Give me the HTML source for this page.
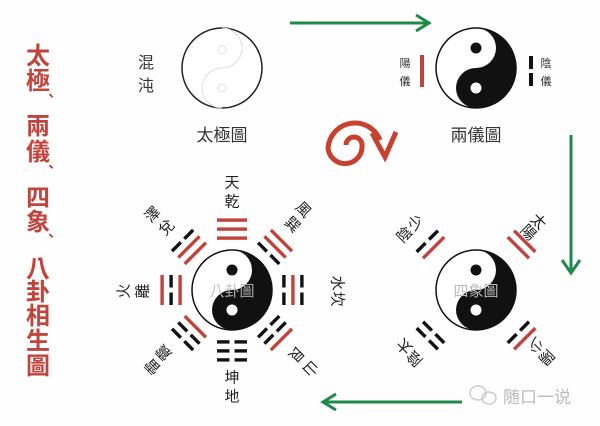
<!DOCTYPE html>
<html><head><meta charset="utf-8"><style>
html,body{margin:0;padding:0;background:#fff;}
svg{display:block;font-family:"Liberation Sans","Noto Sans CJK TC",sans-serif;}
</style></head><body>
<svg width="600" height="426" viewBox="0 0 600 426" xmlns="http://www.w3.org/2000/svg">
<rect width="600" height="426" fill="#fefefe"/>
<defs>
<g id="yy">
<circle cx="0" cy="0" r="40" fill="#fff" stroke="#111" stroke-width="1.5"/>
<path d="M0,-40 A40,40 0 0 1 0,40 A20,20 0 0 1 0,0 A20,20 0 0 0 0,-40 Z" fill="#111"/>
<circle cx="0" cy="-20" r="5.5" fill="#111"/>
<circle cx="0" cy="20" r="5.5" fill="#fff"/>
</g>
<g id="Y"><rect x="-15" y="-1.6" width="30" height="3.4" fill="#c0443c"/></g>
<g id="N"><rect x="-15" y="-1.6" width="12.5" height="3.4" fill="#111"/><rect x="2.5" y="-1.6" width="12.5" height="3.4" fill="#111"/></g>
</defs>

<!-- left title -->
<g fill="#c0443c" font-size="24" font-weight="bold" text-anchor="middle">
<text x="38" y="64">太</text><text x="38" y="89">極</text><text x="51" y="101" font-size="14">、</text>
<text x="38" y="134">兩</text><text x="38" y="160">儀</text><text x="51" y="172" font-size="14">、</text>
<text x="38" y="206">四</text><text x="38" y="230">象</text><text x="51" y="241" font-size="14">、</text>
<text x="38" y="277">八</text><text x="38" y="300">卦</text><text x="38" y="324">相</text><text x="38" y="349">生</text><text x="38" y="374">圖</text>
</g>

<!-- 太極 -->
<circle cx="222" cy="68" r="40" fill="#fff" stroke="#222" stroke-width="1.5"/>
<path d="M222,28 A20,20 0 0 1 222,68 A20,20 0 0 0 222,108" fill="none" stroke="#ddd" stroke-width="1"/>
<circle cx="222" cy="50" r="4" fill="none" stroke="#e2e2e2"/><circle cx="222" cy="88" r="4" fill="none" stroke="#e2e2e2"/>
<g font-size="16" fill="#333" text-anchor="middle"><text x="146" y="68">混</text><text x="146" y="91">沌</text>
<text x="222" y="141" font-size="17">太極圖</text></g>

<!-- top green arrow -->
<g stroke="#1e8a4a" stroke-width="3" fill="none"><line x1="290" y1="23" x2="428" y2="23"/><polyline points="416,15 429,23 416,31"/></g>

<!-- 兩儀 -->
<use href="#yy" x="476" y="68"/>
<rect x="420" y="55" width="4" height="32" fill="#c0443c"/>
<rect x="529" y="56" width="4" height="13" fill="#111"/><rect x="529" y="73" width="4" height="13" fill="#111"/>
<g font-size="11" fill="#333" text-anchor="middle"><text x="405" y="67">陽</text><text x="405" y="85">儀</text>
<text x="546" y="67">陰</text><text x="546" y="85">儀</text></g>
<text x="476" y="141" font-size="17" fill="#333" text-anchor="middle">兩儀圖</text>

<!-- red spiral -->
<path d="M346,145 A8,8 0 0 1 362,145 A17,17 0 0 1 328,148 A27,27 0 0 1 380,140" fill="none" stroke="#c8402e" stroke-width="5"/>
<polyline points="372,133 385,157 396,132" fill="none" stroke="#c8402e" stroke-width="5"/>

<!-- right green arrow -->
<g stroke="#1e8a4a" stroke-width="3" fill="none"><line x1="571" y1="135" x2="571" y2="272"/><polyline points="562,260 571,273 580,260"/></g>

<!-- bottom green arrow -->
<g stroke="#1e8a4a" stroke-width="3" fill="none"><line x1="462" y1="402" x2="324" y2="402"/><polyline points="336,394 323,402 336,410"/></g>

<!-- 八卦 -->
<use href="#yy" x="232" y="290"/>
<text x="232" y="296" font-size="15" fill="#bbb" text-anchor="middle" opacity="0.9">八卦圖</text>
<g transform="translate(232,290)">
<g transform="rotate(0)"><use href="#Y" y="-52"/><use href="#Y" y="-61"/><use href="#Y" y="-70"/></g>
<g transform="rotate(45)"><use href="#N" y="-52"/><use href="#Y" y="-61"/><use href="#Y" y="-70"/></g>
<g transform="rotate(90)"><use href="#N" y="-52"/><use href="#Y" y="-61"/><use href="#N" y="-70"/></g>
<g transform="rotate(135)"><use href="#N" y="-52"/><use href="#N" y="-61"/><use href="#Y" y="-70"/></g>
<g transform="rotate(180)"><use href="#N" y="-52"/><use href="#N" y="-61"/><use href="#N" y="-70"/></g>
<g transform="rotate(225)"><use href="#Y" y="-52"/><use href="#N" y="-61"/><use href="#N" y="-70"/></g>
<g transform="rotate(270)"><use href="#Y" y="-52"/><use href="#N" y="-61"/><use href="#Y" y="-70"/></g>
<g transform="rotate(315)"><use href="#Y" y="-52"/><use href="#Y" y="-61"/><use href="#N" y="-70"/></g>
</g>
<g font-size="15" fill="#222" text-anchor="middle" dominant-baseline="central">
<text x="232" y="183">天</text><text x="232" y="202">乾</text>
<text x="232" y="378">坤</text><text x="232" y="397">地</text>
<text transform="translate(337,283) rotate(90)">水</text><text transform="translate(337,299) rotate(90)">坎</text>
<text transform="translate(124,291) rotate(-90)">火</text><text transform="translate(143,291) rotate(-90)">離</text>
<text transform="translate(153,215) rotate(-45)">澤</text><text transform="translate(167,228) rotate(-45)">兌</text>
<text transform="translate(303,210) rotate(45)">風</text><text transform="translate(292,225) rotate(45)">巽</text>
<text transform="translate(153,366) rotate(-135)">雷</text><text transform="translate(164,352) rotate(-135)">震</text>
<text transform="translate(310,368) rotate(135)">山</text><text transform="translate(296,354) rotate(135)">艮</text>
</g>

<!-- 四象 -->
<use href="#yy" x="476" y="290"/>
<text x="476" y="296" font-size="15" fill="#bbb" text-anchor="middle">四象圖</text>
<g transform="translate(476,290)">
<g transform="rotate(45)"><use href="#Y" y="-60"/><use href="#Y" y="-69"/></g>
<g transform="rotate(-45)"><use href="#Y" y="-60"/><use href="#N" y="-69"/></g>
<g transform="rotate(225)"><use href="#N" y="-60"/><use href="#N" y="-69"/></g>
<g transform="rotate(135)"><use href="#N" y="-60"/><use href="#Y" y="-69"/></g>
</g>
<g font-size="15" fill="#222" text-anchor="middle" dominant-baseline="central">
<text transform="translate(538,222) rotate(45)">太</text><text transform="translate(528,233) rotate(45)">陽</text>
<text transform="translate(416,223) rotate(-45)">少</text><text transform="translate(405,235) rotate(-45)">陰</text>
<text transform="translate(405,346) rotate(-135)">太</text><text transform="translate(415,358) rotate(-135)">陰</text>
<text transform="translate(535,345) rotate(135)">少</text><text transform="translate(546,357) rotate(135)">陽</text>
</g>

<!-- watermark -->
<g fill="none" stroke="#ccc" stroke-width="1.5"><ellipse cx="478" cy="393" rx="8" ry="7"/><ellipse cx="489" cy="398" rx="7" ry="6"/></g>
<text x="503" y="403" font-size="17" fill="#bbb">随口一说</text>
</svg>
</body></html>
